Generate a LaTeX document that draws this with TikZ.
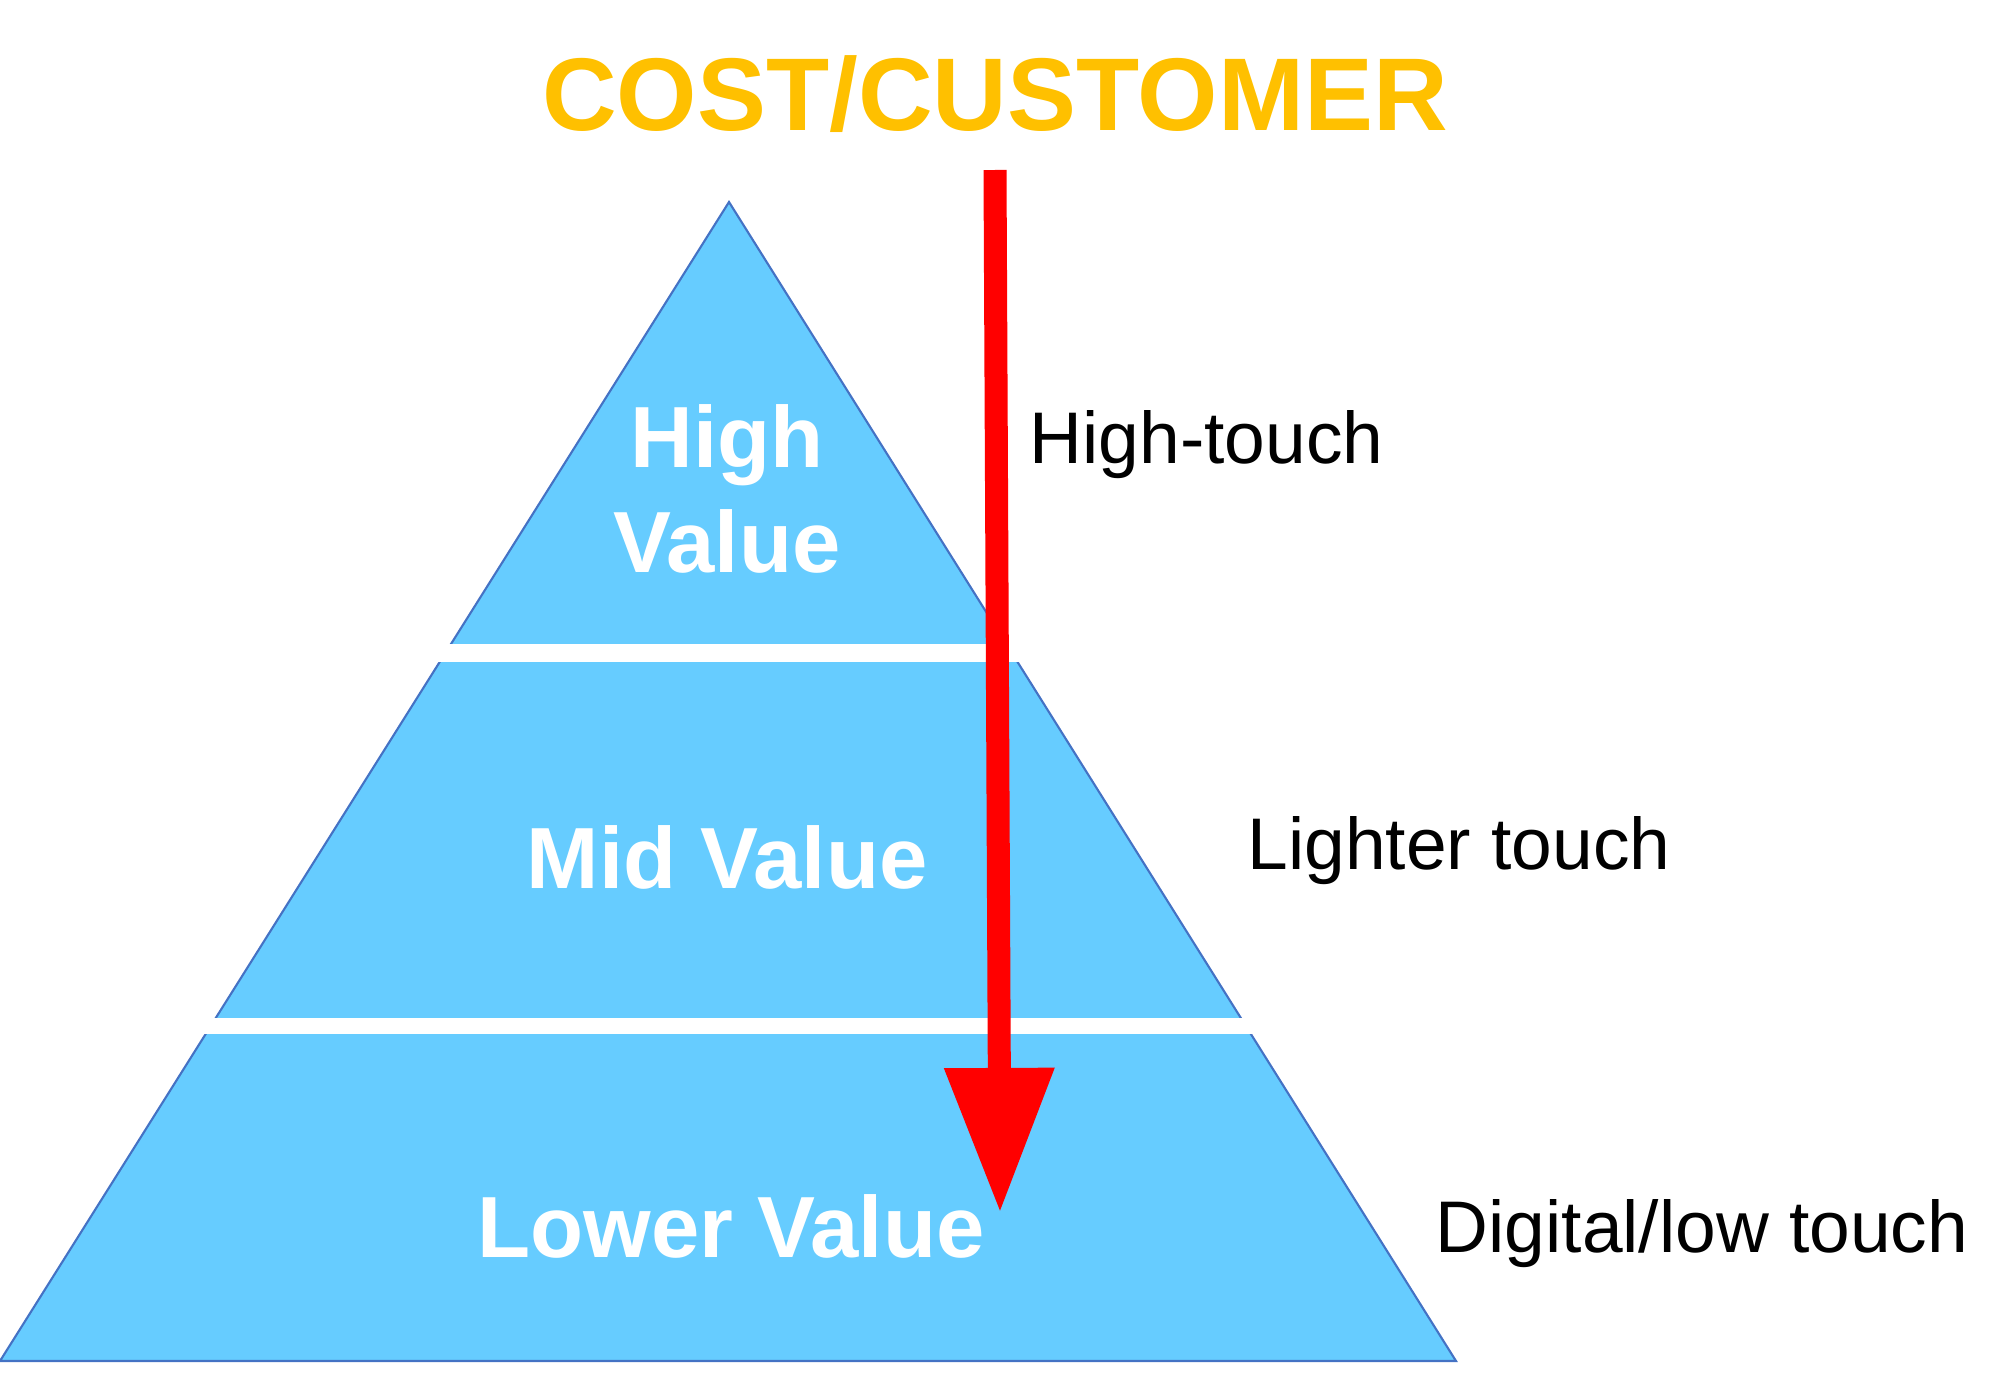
\documentclass[tikz,border=0pt]{standalone}
\usepackage{fontspec}
\setmainfont{Liberation Sans}
\usetikzlibrary{arrows.meta}

\definecolor{tierblue}{HTML}{66CCFF}
\definecolor{edgeblue}{HTML}{4472C4}
\definecolor{costgold}{HTML}{FFC000}
\definecolor{arrowred}{HTML}{FF0000}

\tikzstyle{tier} = [inner sep=0pt, anchor=base, text=white, align=center,
    font=\bfseries\fontsize{24.7}{29.6}\selectfont]
\tikzstyle{touch} = [inner sep=0pt, anchor=base west, font=\fontsize{20.8}{25}\selectfont]
\tikzstyle{gap} = [fill=white]
\tikzstyle{line} = [draw=arrowred, line width=0.23cm, -{Triangle[width=1.04cm, length=1.45cm]}]

\begin{document}
\begin{tikzpicture}[x=0.01cm, y=-0.01cm]
    \useasboundingbox (0,0) rectangle (2000,1376);

    % pyramid and the two white cuts
    \filldraw [fill=tierblue, draw=edgeblue, line width=0.6pt] (729,202) -- (1456,1361) -- (0,1361) -- cycle;
    \fill [gap] (0,644) rectangle (1500,662);
    \fill [gap] (0,1018) rectangle (1500,1034);

    \node [tier] (High) at (727,572) {High\\Value};
    \node [tier] (Mid) at (727,888) {Mid Value};
    \node [tier] (Lower) at (731,1257) {Lower Value};

    \node [touch] (HighTouch) at (1029,463) {High-touch};
    \node [touch] (LighterTouch) at (1247,869) {Lighter touch};
    \node [touch] (LowTouch) at (1435,1252) {Digital/low touch};

    \node [inner sep=0pt, anchor=base, text=costgold, font=\bfseries\fontsize{29.4}{35}\selectfont] (Cost) at (995,130) {COST/CUSTOMER};

    \coordinate (Start) at (995,170);
    \coordinate (Tip) at (1000,1213);
    \path [line] (Start) -- (Tip);
\end{tikzpicture}
\end{document}
